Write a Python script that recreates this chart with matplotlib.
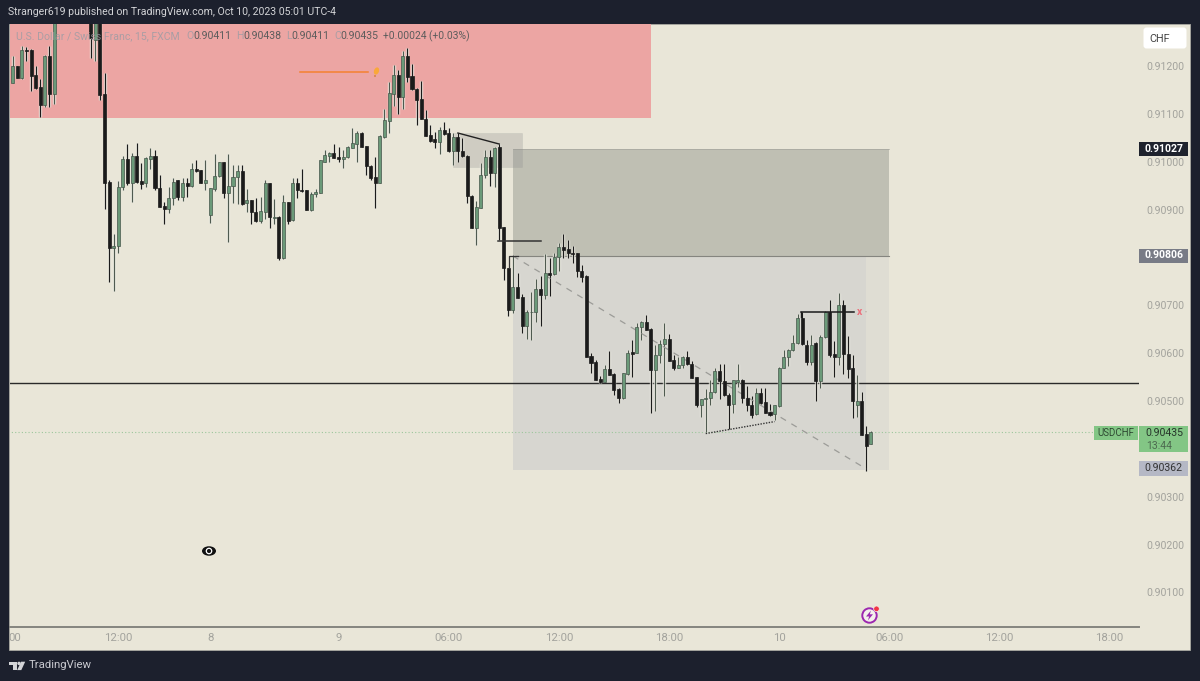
import matplotlib
matplotlib.use('Agg')
import matplotlib.pyplot as plt
import matplotlib.patheffects as pe
from matplotlib.patches import Rectangle, Circle, Ellipse, Polygon, FancyBboxPatch

plt.rcParams['font.family'] = ['Roboto', 'DejaVu Sans']

# candles in 1e-5 price units (bars 10-16 sit above the visible range)
opens = [91165,91200,91174,91233,91233,91181,91157,91119,91221,91141,
         91320,91360,91390,91420,91400,91380,91400,91360,91254,91330,
         91141,90958,90820,90824,90947,91005,90955,91011,90959,90955,
         91006,91012,90945,90908,90901,90924,90961,90927,90955,90950,
         90985,90983,90956,90889,90943,90970,90999,90935,90950,90969,
         90981,90914,90919,90895,90876,90896,90955,90883,90885,90798,
         90916,90878,90955,90941,90941,90900,90932,90935,91000,91012,
         91019,91009,91006,91009,91028,91038,91061,91033,90992,90969,
         90956,91051,91086,91141,91182,91136,91221,91179,91153,91131,
         91090,91056,91047,91042,91066,91059,91023,91051,91023,91012,
         90929,90861,90904,90972,91009,90976,91030,90863,90777,90691,
         90738,90718,90657,90686,90686,90734,90722,90767,90765,90800,
         90821,90818,90810,90809,90772,90762,90595,90581,90546,90539,
         90567,90557,90526,90507,90557,90603,90601,90654,90665,90651,
         90564,90597,90619,90629,90585,90570,90576,90593,90578,90550,
         90491,90505,90506,90518,90563,90542,90513,90493,90539,90544,
         90506,90492,90472,90516,90497,90477,90472,90490,90570,90593,
         90607,90621,90674,90618,90581,90621,90542,90633,90687,90598,
         90593,90701,90598,90568,90491,90501,90431,90411]
highs = [91221,91200,91242,91239,91235,91200,91172,91223,91242,91350,
         91380,91410,91440,91450,91430,91420,91430,91390,91350,91350,
         91185,90961,90848,90960,91012,91037,91018,91040,90998,91009,
         91028,91025,90972,90915,90947,90965,90962,90965,90967,90998,
         91004,90983,91004,90946,91016,91000,91000,91016,90993,90993,
         90993,90942,90920,90925,90926,90962,90956,90922,90887,90930,
         90916,90965,90965,90984,90941,90937,90942,91003,91024,91021,
         91037,91030,91024,91033,91070,91065,91063,91033,90993,91009,
         91056,91111,91166,91202,91191,91231,91237,91205,91154,91169,
         91108,91077,91063,91072,91082,91070,91059,91061,91049,91014,
         90930,90918,90998,91024,91024,91030,91037,90863,90777,90805,
         90767,90723,90691,90727,90755,90762,90807,90798,90809,90830,
         90849,90837,90823,90809,90784,90764,90600,90585,90553,90576,
         90604,90558,90527,90558,90607,90628,90663,90668,90679,90652,
         90617,90628,90664,90640,90597,90591,90595,90605,90584,90551,
         90505,90525,90544,90570,90577,90577,90516,90544,90577,90546,
         90532,90511,90528,90528,90527,90493,90491,90572,90606,90608,
         90638,90681,90687,90628,90638,90624,90637,90688,90711,90625,
         90725,90711,90635,90596,90555,90518,90448,90438]
lows = [91165,91174,91172,91211,91148,91153,91093,91115,91115,91121,
        91300,91340,91370,91380,91360,91350,91340,91216,91211,91130,
        90901,90748,90729,90810,90940,90951,90915,90956,90942,90948,
        90984,90941,90906,90870,90892,90910,90919,90917,90927,90948,
        90979,90955,90940,90871,90938,90969,90924,90833,90913,90912,
        90910,90894,90870,90875,90873,90881,90862,90870,90795,90796,
        90870,90877,90925,90937,90899,90897,90927,90934,91000,91000,
        91007,91000,90986,91008,91028,91000,91030,90972,90962,90904,
        90955,91049,91061,91116,91099,91110,91167,91150,91076,91089,
        91054,91042,91028,91017,91056,91021,90993,91000,91009,90913,
        90861,90825,90904,90965,90949,90948,90836,90753,90677,90684,
        90715,90642,90630,90628,90665,90656,90713,90720,90763,90771,
        90798,90798,90788,90760,90748,90592,90558,90543,90538,90539,
        90555,90513,90496,90505,90555,90550,90600,90628,90649,90475,
        90480,90579,90511,90583,90564,90569,90570,90576,90549,90487,
        90466,90436,90491,90516,90504,90511,90442,90476,90529,90495,
        90480,90465,90470,90493,90474,90468,90460,90488,90570,90573,
        90605,90619,90617,90575,90575,90499,90527,90631,90593,90551,
        90575,90556,90548,90465,90466,90429,90354,90411]
closes = [91200,91176,91233,91232,91179,91155,91119,91221,91141,91320,
          91360,91390,91420,91400,91380,91400,91360,91258,91330,91139,
          90956,90819,90824,90947,91005,90955,91011,90958,90954,91007,
          91012,90945,90906,90901,90924,90958,90927,90955,90950,90985,
          90981,90955,90961,90946,90971,90999,90935,90950,90969,90981,
          90912,90919,90894,90876,90897,90955,90884,90885,90798,90916,
          90877,90955,90941,90939,90900,90932,90936,91003,91014,91019,
          91007,91006,91010,91030,91040,91061,91030,90992,90967,90956,
          91054,91087,91143,91182,91136,91221,91177,91151,91130,91090,
          91054,91044,91042,91066,91058,91023,91051,91023,91012,90929,
          90861,90906,90972,91009,90976,91029,90861,90777,90691,90738,
          90716,90657,90687,90687,90734,90722,90767,90764,90800,90821,
          90816,90809,90807,90771,90760,90593,90579,90544,90539,90567,
          90555,90523,90507,90558,90600,90599,90654,90666,90649,90564,
          90597,90620,90629,90584,90569,90576,90593,90577,90549,90491,
          90505,90506,90518,90563,90542,90513,90492,90544,90543,90506,
          90491,90471,90516,90495,90476,90470,90491,90570,90593,90607,
          90621,90674,90619,90581,90618,90542,90633,90687,90596,90592,
          90701,90598,90567,90499,90501,90429,90407,90435]

price_ticks = [0.912, 0.911, 0.910, 0.909, 0.907, 0.906, 0.905, 0.903, 0.902, 0.901]
time_ticks = [23, 43, 71, 95, 119, 143, 167, 191, 215, 239]
time_labels = ['12:00', '8', '9', '06:00', '12:00', '18:00', '10', '06:00', '12:00', '18:00']

BG = '#1c202d'
PANEL = '#e9e6d8'
BLACK = '#1b1b1b'
GREEN = '#6b9a79'
GREY_TXT = '#a3a39d'
FS = 7.6

fig = plt.figure(figsize=(12, 6.81), dpi=100, facecolor=BG)

def px_axes(z):
    a = fig.add_axes([0, 0, 1, 1], zorder=z)
    a.set_xlim(0, 1200)
    a.set_ylim(681, 0)
    a.axis('off')
    a.patch.set_visible(False)
    return a

back = px_axes(0)
back.add_patch(Rectangle((9, 24), 1181, 626, fc=PANEL, ec='#a9a9a2', lw=0.6))

ax = fig.add_axes([9.5/1200, 54/681, (1139-9.5)/1200, 603/681], zorder=1)
ax.patch.set_visible(False)
ax.set_xlim(-0.7, 245.4)
ax.set_ylim(0.900278, 0.912878)

# zones under the candles
ax.add_patch(Rectangle((-1, 0.91091), 140, 0.003, fc='#eca5a3', ec='none', zorder=1))
ax.add_patch(Rectangle((109, 0.90355), 82, 0.00448, fc='#dfddd3', ec='none', zorder=1))
ax.add_patch(Rectangle((109, 0.90355), 77, 0.00448, fc='#d7d6d0', ec='none', zorder=1.1))
ax.add_patch(Rectangle((109, 0.90803), 82, 0.00224, fc='#bfbfb3', ec='none', zorder=1.2))
ax.plot([109, 191], [0.90803, 0.90803], color='#85857f', lw=0.8, zorder=1.25)
ax.plot([109, 191], [0.91027, 0.91027], color='#a5a59d', lw=0.5, zorder=1.25)
ax.add_patch(Rectangle((96, 0.9099), 15, 0.00069, fc='#8c8c8c', alpha=0.28, ec='#9a9a94', lw=0.4, zorder=1.3))

# horizontal levels
ax.axhline(0.905376, color='#2a2a2a', lw=1.0, zorder=2)
ax.plot([-1, 236.5], [0.90435, 0.90435], color='#9cc79c', lw=0.8, ls=(0, (1, 2)), zorder=2)

# candles
x = list(range(len(closes)))
halo = [pe.withStroke(linewidth=2.4, foreground='#f6f5ec', alpha=0.75)]
wick_cols = ['#4f5a50' if c >= o else BLACK for o, c in zip(opens, closes)]
wicks = ax.vlines(x, [l/1e5 for l in lows], [h/1e5 for h in highs], colors=wick_cols, lw=0.9, zorder=3)
wicks.set_path_effects(halo)
for i in x:
    up = closes[i] >= opens[i]
    bot = min(opens[i], closes[i])/1e5
    hgt = abs(closes[i]-opens[i])/1e5
    ax.bar(i, hgt, bottom=bot, width=0.66, color=GREEN if up else BLACK,
           edgecolor='#45554a' if up else BLACK, lw=0.5, zorder=4)

# drawings on top of the chart
ax.plot([97, 106], [0.9106, 0.91037], color='#222222', lw=1.0, zorder=5)
ax.plot([105.7, 115], [0.90834, 0.90834], color='#333333', lw=1.1, zorder=5)
ax.plot([108.2, 108.2, 110], [0.9078, 0.90803, 0.90803], color='#333333', lw=0.9, zorder=5)
ax.plot([109, 186], [0.90803, 0.90358], color='#9c9c98', lw=0.9, ls=(0, (5, 5)), zorder=3.5)
ax.plot([151.0, 166], [0.90432, 0.90457], color='#333333', lw=1.0, ls=(0, (1, 1)), zorder=5)
ax.plot([171.7, 183.2], [0.90686, 0.90686], color='#1b1b1b', lw=1.1, zorder=5)
ax.plot([171.7, 171.7], [0.90686, 0.90676], color='#1b1b1b', lw=1.0, zorder=5)
ax.plot([62.7, 77.5], [0.91187, 0.91187], color='#f5812f', lw=1.1, zorder=5)

for s in ['top', 'left', 'right']:
    ax.spines[s].set_visible(False)
ax.spines['bottom'].set_color('#85857f')
ax.spines['bottom'].set_linewidth(1.4)
ax.yaxis.tick_right()
ax.set_yticks(price_ticks)
ax.set_yticklabels(['%.5f' % p for p in price_ticks])
ax.set_xticks(time_ticks)
ax.set_xticklabels(time_labels)
ax.tick_params(axis='y', length=0, pad=5, labelsize=FS, labelcolor=GREY_TXT)
ax.tick_params(axis='x', length=0, pad=4, labelsize=8.2, labelcolor=GREY_TXT)

top = px_axes(2)

# header and legend
top.text(8, 12, 'Stranger619 published on TradingView.com, Oct 10, 2023 05:01 UTC-4',
         color='#d2d3d6', fontsize=7.6, va='center')
top.text(16, 36, 'U.S. Dollar / Swiss Franc, 15, FXCM', color='#9a9ca4', alpha=0.8, fontsize=7.6, va='center')
for lx, lab, vx, val in [(186, 'O', 193, '0.90411'), (236, 'H', 243, '0.90438'),
                         (286, 'L', 291, '0.90411'), (334, 'C', 340, '0.90435')]:
    top.text(lx, 36, lab, color='#9a9ca4', alpha=0.8, fontsize=FS, va='center')
    top.text(vx, 36, val, color='#5c5c5c', fontsize=FS, va='center')
top.text(383, 36, '+0.00024 (+0.03%)', color='#5c5c5c', fontsize=7.4, va='center')

# clipped label at the left edge of the time scale
top.text(14.5, 638, '00', color=GREY_TXT, fontsize=8.2, ha='center', va='center')

# price scale boxes
top.add_patch(FancyBboxPatch((1144.5, 28.5), 41, 19, boxstyle='round,pad=1,rounding_size=3', fc='white', ec='none'))
top.text(1159.5, 38.5, 'CHF', color='#444444', fontsize=7.8, ha='center', va='center')
for y0, y1, col, tcol, label, weight in [(142.3, 156, '#1e222d', 'white', '0.91027', 'bold'),
                                         (248.5, 262.5, '#787b86', 'white', '0.90806', 'bold'),
                                         (461, 475.7, '#b5b8c5', '#333333', '0.90362', 'normal')]:
    top.add_patch(Rectangle((1139.3, y0), 48.4, y1-y0, fc=col, ec='none'))
    top.text(1163.8, (y0+y1)/2, label, color=tcol, fontsize=FS, fontweight=weight, ha='center', va='center')
top.add_patch(Rectangle((1094, 425.7), 44.3, 14.3, fc='#83c685', ec='none'))
top.text(1116, 433, 'USDCHF', color='#2f4a33', fontsize=7.0, ha='center', va='center')
top.add_patch(Rectangle((1139.3, 425.7), 48.4, 26.6, fc='#83c685', ec='none'))
top.text(1164, 433, '0.90435', color='#26352a', fontsize=FS, ha='center', va='center')
top.text(1159, 446, '13:44', color='#4d6b50', fontsize=FS, ha='center', va='center')

# alert flag, x mark and the eye icon
top.add_patch(Ellipse((376.5, 71), 5, 7.5, angle=20, fc='#f9a83a', ec='none'))
top.add_patch(Rectangle((374, 75), 2, 2, fc='#d98b5a', ec='none'))
top.text(860, 311.7, 'x', color='#ec6f7a', fontsize=7.5, fontweight='bold', ha='center', va='center')
top.add_patch(Circle((866, 311.7), 0.7, fc='#b9a9a0', ec='none'))
top.add_patch(Ellipse((209, 551), 14, 9.5, fc='#111111', ec='none'))
top.add_patch(Circle((209, 551), 2.7, fc='none', ec='white', lw=0.9))

# lightning icon
top.add_patch(Circle((869.5, 615.5), 7.2, fc='#f4f0ec', ec='#9c27b0', lw=1.4))
top.add_patch(Polygon([(871, 610.5), (866, 616.5), (869.2, 616.5), (867.8, 620.5), (873, 614.3), (869.8, 614.3)],
                      fc='#9c27b0', ec='none'))
top.add_patch(Circle((876.5, 608.8), 2.8, fc='#f23645', ec='#f4f0ec', lw=0.5))

# TradingView footer
logo = '#d4d5d8'
top.add_patch(Rectangle((8.5, 661.7), 8, 3.4, fc=logo, ec='none'))
top.add_patch(Rectangle((12.5, 661.7), 4, 8.4, fc=logo, ec='none'))
top.add_patch(Circle((19, 663.4), 1.7, fc=logo, ec='none'))
top.add_patch(Polygon([(21, 661.7), (25.2, 661.7), (21.3, 670.1), (17.2, 670.1)], fc=logo, ec='none'))
top.text(29, 665.5, 'TradingView', color='#c9cad0', fontsize=8.2, va='center')

fig.savefig('out.png', dpi=100, facecolor=BG)
